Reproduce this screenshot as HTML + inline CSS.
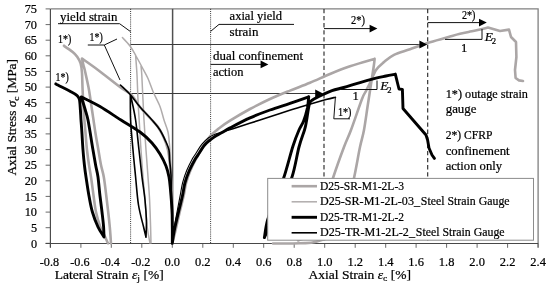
<!DOCTYPE html>
<html><head><meta charset="utf-8"><title>Axial stress versus strain</title>
<style>html,body{margin:0;padding:0;background:#fff}svg{display:block}</style></head>
<body>
<svg width="550" height="286" viewBox="0 0 550 286">
<rect width="550" height="286" fill="#fff"/>
<path d="M50.4,8.9H538.1V247.6" fill="none" stroke="#808080" stroke-width="1.3"/>
<path d="M45.6,243.3H50.4 M45.6,227.7H50.4 M45.6,212.1H50.4 M45.6,196.4H50.4 M45.6,180.8H50.4 M45.6,165.2H50.4 M45.6,149.6H50.4 M45.6,133.9H50.4 M45.6,118.3H50.4 M45.6,102.7H50.4 M45.6,87.1H50.4 M45.6,71.4H50.4 M45.6,55.8H50.4 M45.6,40.2H50.4 M45.6,24.6H50.4 M45.6,8.9H50.4 M50.4,243.3V247.8 M80.9,243.3V247.8 M111.3,243.3V247.8 M141.8,243.3V247.8 M172.3,243.3V247.8 M202.8,243.3V247.8 M233.3,243.3V247.8 M263.7,243.3V247.8 M294.2,243.3V247.8 M324.7,243.3V247.8 M355.2,243.3V247.8 M385.7,243.3V247.8 M416.1,243.3V247.8 M446.6,243.3V247.8 M477.1,243.3V247.8 M507.6,243.3V247.8 M538.1,243.3V247.8" stroke="#6a6a6a" stroke-width="1" fill="none"/>
<path d="M50.4,8.9V247.6 M45.6,243.5H538.1" stroke="#484848" stroke-width="1.15" fill="none"/>
<path d="M172.6,8.9V243.3" stroke="#505050" stroke-width="1.5" fill="none"/>
<path d="M130.6,8.9V243.3 M210.6,8.9V243.3" stroke="#222" stroke-width="0.9" stroke-dasharray="1 1.1" fill="none"/>
<path d="M324,8.9V243.3 M427.7,8.9V243.3" stroke="#222" stroke-width="1.1" stroke-dasharray="4.3 2.8" fill="none"/>
<path d="M130.6,44.5H420 M130.6,93.5H316" stroke="#3a3a3a" stroke-width="1.2" fill="none"/>
<g fill="none" stroke-linejoin="round" stroke-linecap="round">
<path d="M172.3,243.3 C172.3,238.6 172.4,223.9 172.3,215.0 C172.2,206.1 171.9,198.3 171.5,190.0 C171.1,181.7 170.6,171.7 170.0,165.0 C169.4,158.3 169.0,154.5 168.0,150.0 C167.0,145.5 165.7,141.8 164.0,138.0 C162.3,134.2 160.3,130.3 158.0,127.0 C155.7,123.7 153.0,121.3 150.0,118.0 C147.0,114.7 143.2,110.9 140.0,107.0 C136.8,103.1 134.3,97.8 131.0,94.5 C127.7,91.2 125.5,91.1 120.0,87.0 C114.5,82.9 104.3,74.7 98.0,70.0 C91.7,65.3 84.7,60.5 82.0,58.6 M82.0,58.6 C82.2,59.7 82.9,62.8 83.4,65.0 C83.9,67.2 84.3,67.8 85.2,72.0 C86.1,76.2 87.9,83.7 89.0,90.0 C90.1,96.3 91.2,105.0 92.0,110.0 C92.8,115.0 92.9,116.0 93.5,120.0 C94.1,124.0 94.8,129.0 95.6,134.0 C96.4,139.0 97.5,144.8 98.4,150.0 C99.3,155.2 100.1,160.5 101.0,165.0 C101.9,169.5 102.9,171.8 103.8,177.0 C104.7,182.2 105.6,190.2 106.3,196.0 C107.0,201.8 107.6,206.8 108.2,212.0 C108.8,217.2 109.3,221.8 109.8,227.0 C110.3,232.2 110.8,240.6 111.0,243.3 M108.0,243.3 C107.3,241.8 105.3,237.2 104.0,234.5 C102.7,231.8 101.6,230.8 100.3,227.0 C99.0,223.2 97.1,217.2 96.0,212.0 C94.9,206.8 94.4,201.8 93.6,196.0 C92.8,190.2 91.8,182.2 91.0,177.0 C90.2,171.8 89.7,169.5 89.0,165.0 C88.3,160.5 87.6,155.2 87.0,150.0 C86.4,144.8 86.0,139.0 85.6,134.0 C85.2,129.0 84.7,124.0 84.4,120.0 C84.1,116.0 83.9,115.0 83.6,110.0 C83.3,105.0 82.9,96.2 82.6,90.0 C82.3,83.8 82.3,77.4 82.0,73.0 C81.7,68.6 81.4,66.2 80.6,63.5 C79.8,60.8 78.5,58.7 77.2,56.8 C75.9,54.9 74.9,53.8 72.7,52.0 C70.5,50.2 65.5,46.8 64.0,45.8 M64.0,45.8 L64.0,45.8 M172.3,243.3 C172.8,241.2 174.1,236.6 175.4,231.0 C176.7,225.4 178.8,215.8 180.2,210.0 C181.6,204.2 182.6,200.5 183.6,196.0 C184.6,191.5 185.0,187.1 186.1,183.0 C187.2,178.9 188.4,175.3 190.0,171.5 C191.6,167.7 194.0,162.8 195.4,160.0 C196.8,157.2 196.7,157.5 198.2,155.0 C199.7,152.5 202.2,148.0 204.2,144.8 C206.2,141.6 208.2,138.4 210.2,136.0 C212.2,133.6 214.8,131.9 216.3,130.6 C217.8,129.3 217.1,129.7 219.4,128.0 C221.7,126.3 224.9,123.9 230.0,120.7 C235.1,117.5 243.3,112.6 250.0,109.0 C256.7,105.4 263.3,102.1 270.0,99.0 C276.7,95.9 283.3,93.3 290.0,90.6 C296.7,87.9 303.3,85.6 310.0,82.8 C316.7,80.0 323.3,76.8 330.0,74.0 C336.7,71.2 342.6,68.8 350.0,66.3 C357.4,63.8 370.5,60.1 374.6,58.9 M374.6,58.9 C374.5,60.1 374.5,61.1 373.8,66.0 C373.1,70.8 371.4,81.5 370.4,88.0 C369.4,94.5 368.9,98.0 367.8,105.0 C366.7,112.0 365.3,123.0 364.0,130.0 C362.7,137.0 361.7,139.0 360.0,147.0 C358.3,155.0 356.3,167.5 354.0,178.0 C351.7,188.5 348.7,201.0 346.0,210.0 C343.3,219.0 343.0,226.7 338.0,232.0 C333.0,237.3 322.3,239.9 316.0,241.8 C309.7,243.7 307.2,242.9 300.0,243.2 C292.8,243.5 277.5,243.4 273.0,243.5 M298.0,240.5 C300.8,239.1 310.5,237.9 315.0,232.0 C319.5,226.1 322.0,214.0 325.0,205.0 C328.0,196.0 329.8,187.7 333.0,178.0 C336.2,168.3 341.0,155.0 344.0,147.0 C347.0,139.0 348.0,138.0 351.0,130.0 C354.0,122.0 359.5,105.5 362.0,99.0 C364.5,92.5 364.7,93.7 366.0,91.0 C367.3,88.3 368.3,86.5 370.0,83.0 C371.7,79.5 373.7,73.5 376.0,70.0 C378.3,66.5 381.0,64.5 384.0,62.0 C387.0,59.5 389.7,56.9 394.0,54.8 C398.3,52.7 404.0,51.3 410.0,49.2 C416.0,47.1 423.3,44.3 430.0,42.2 C436.7,40.1 445.0,37.9 450.0,36.5 C455.0,35.1 456.7,34.6 460.0,33.8 C463.3,33.0 466.7,32.3 470.0,31.6 C473.3,30.9 477.0,30.3 480.0,29.6 C483.0,28.9 486.7,27.9 488.0,27.6 M488.0,27.6 L500.0,31.0 L509.0,29.6 L511.0,37.0 L516.0,42.0 L516.4,57.0 L515.0,70.0 L515.6,78.0 L519.0,80.4 L523.0,81.0" stroke="#aba6a6" stroke-width="2.6"/>
<path d="M172.3,243.3 C172.2,236.1 172.2,212.2 172.0,200.0 C171.8,187.8 171.4,179.0 171.0,170.0 C170.6,161.0 170.1,152.3 169.6,146.0 C169.1,139.7 168.9,136.3 168.0,132.0 C167.1,127.7 165.3,124.2 164.0,120.0 C162.7,115.8 161.8,111.2 160.0,106.5 C158.2,101.8 155.0,96.2 153.0,91.5 C151.0,86.8 149.8,82.6 148.0,78.5 C146.2,74.4 144.0,70.8 142.0,67.0 C140.0,63.2 138.0,59.5 136.0,56.0 C134.0,52.5 132.3,49.1 130.0,46.0 C127.7,42.9 123.7,39.0 122.4,37.6 M141.0,66.0 C141.1,67.5 141.5,69.3 141.8,75.0 C142.1,80.7 142.6,92.5 143.0,100.0 C143.4,107.5 143.5,111.7 144.0,120.0 C144.5,128.3 145.3,140.5 146.0,150.0 C146.7,159.5 147.4,168.7 148.0,177.0 C148.6,185.3 149.2,191.7 149.6,200.0 C150.0,208.3 150.4,219.8 150.6,227.0 C150.8,234.2 150.9,240.3 151.0,243.0 M150.0,243.0 C149.5,240.3 148.0,234.2 147.2,227.0 C146.4,219.8 145.7,208.3 145.0,200.0 C144.3,191.7 143.7,185.3 143.0,177.0 C142.3,168.7 141.6,158.3 141.0,150.0 C140.4,141.7 140.1,135.3 139.6,127.0 C139.1,118.7 138.4,108.7 138.0,100.0 C137.6,91.3 137.4,82.5 137.0,75.0 C136.6,67.5 135.8,58.3 135.6,55.0" stroke="#b0acac" stroke-width="1.5"/>
<path d="M172.3,243.3 C172.3,240.6 172.4,232.6 172.3,227.0 C172.2,221.4 172.3,216.2 172.0,210.0 C171.7,203.8 171.0,195.5 170.5,190.0 C170.0,184.5 169.8,181.0 169.0,177.0 C168.2,173.0 167.5,169.8 166.0,166.0 C164.5,162.2 162.3,157.8 160.0,154.0 C157.7,150.2 155.3,146.7 152.0,143.0 C148.7,139.3 145.2,135.8 140.0,132.0 C134.8,128.2 127.7,124.2 121.0,120.0 C114.3,115.8 106.6,110.3 100.0,106.5 C93.4,102.7 84.4,98.5 81.3,96.9 M81.3,96.9 C81.6,97.9 82.5,100.8 83.2,103.0 C83.9,105.2 84.5,107.2 85.3,110.0 C86.1,112.8 87.2,116.0 88.0,120.0 C88.8,124.0 89.6,129.0 90.4,134.0 C91.2,139.0 92.1,144.8 93.0,150.0 C93.9,155.2 94.8,160.5 95.6,165.0 C96.4,169.5 97.3,171.8 98.0,177.0 C98.7,182.2 99.3,190.2 100.0,196.0 C100.7,201.8 101.4,206.8 102.0,212.0 C102.6,217.2 103.3,222.8 103.6,227.0 C103.9,231.2 103.9,235.3 104.0,237.0 M104.0,237.0 C103.0,235.3 99.9,231.2 98.0,227.0 C96.1,222.8 93.9,217.2 92.4,212.0 C90.9,206.8 90.1,201.8 89.0,196.0 C87.9,190.2 86.8,182.2 86.0,177.0 C85.2,171.8 84.9,169.5 84.4,165.0 C83.9,160.5 83.4,155.2 83.0,150.0 C82.6,144.8 82.3,139.0 82.0,134.0 C81.7,129.0 81.3,124.0 81.0,120.0 C80.7,116.0 80.7,113.4 80.4,110.0 C80.1,106.6 80.0,101.9 79.4,99.5 C78.8,97.1 78.3,96.7 76.8,95.4 C75.3,94.1 73.9,93.4 70.4,91.5 C66.9,89.6 58.2,85.2 55.8,83.9 M55.8,83.9 L55.8,83.9 M172.3,243.3 C172.6,241.2 173.1,236.6 174.2,231.0 C175.3,225.4 177.6,215.8 179.0,210.0 C180.4,204.2 181.4,200.5 182.4,196.0 C183.4,191.5 183.8,187.1 184.9,183.0 C186.0,178.9 187.3,175.3 188.9,171.5 C190.5,167.7 193.2,162.7 194.7,160.0 C196.2,157.3 196.1,157.8 197.7,155.4 C199.3,153.0 202.1,148.1 204.2,145.5 C206.3,142.9 208.2,141.5 210.3,139.8 C212.4,138.2 214.4,136.9 216.5,135.6 C218.6,134.3 220.3,133.5 222.6,132.2 C224.8,130.9 225.4,130.3 230.0,127.9 C234.6,125.5 243.3,120.9 250.0,117.9 C256.7,114.9 263.3,112.4 270.0,110.0 C276.7,107.6 283.6,105.5 290.0,103.3 C296.4,101.1 305.6,97.9 308.7,96.8 M308.7,96.8 C308.5,98.7 308.2,104.0 307.4,108.0 C306.5,112.0 305.0,117.3 303.6,121.0 C302.2,124.7 300.8,125.8 299.0,130.0 C297.2,134.2 295.5,138.2 293.0,146.0 C290.5,153.8 287.0,168.0 284.0,177.0 C281.0,186.0 277.7,192.8 275.0,200.0 C272.3,207.2 269.4,213.7 267.6,220.0 C265.8,226.3 264.9,234.7 264.4,237.6 M264.4,237.6 C265.3,235.5 267.4,230.4 270.0,225.0 C272.6,219.6 276.3,213.0 280.0,205.0 C283.7,197.0 288.8,186.7 292.0,177.0 C295.2,167.3 296.9,154.8 299.0,147.0 C301.1,139.2 303.2,134.3 304.5,130.0 C305.8,125.7 305.7,125.3 306.5,121.0 C307.3,116.7 308.3,107.6 309.4,104.0 C310.5,100.4 311.6,100.8 313.0,99.6 C314.4,98.4 316.3,97.8 318.0,97.0 C319.7,96.2 320.7,95.5 323.0,94.5 C325.3,93.5 328.6,91.9 332.0,90.7 C335.4,89.5 339.0,88.8 343.7,87.5 C348.4,86.2 354.6,84.1 360.0,82.6 C365.4,81.0 371.7,79.3 376.0,78.2 C380.3,77.1 382.8,76.7 386.0,76.0 C389.2,75.3 393.8,74.6 395.4,74.3 M395.4,74.3 L398.0,85.0 L399.0,89.0 L402.4,89.4 L403.0,108.5 L426.0,135.0 L427.6,140.0 L429.0,148.0 L432.0,155.0 L434.4,158.4" stroke="#000" stroke-width="2.9"/>
<path d="M172.3,243.3 C172.2,240.2 172.1,232.2 172.0,225.0 C171.9,217.8 171.7,208.3 171.5,200.0 C171.3,191.7 171.3,181.7 171.0,175.0 C170.7,168.3 169.9,164.2 169.6,160.0 C169.3,155.8 169.6,153.0 169.0,150.0 C168.4,147.0 167.5,145.3 166.0,142.0 C164.5,138.7 162.3,133.7 160.0,130.0 C157.7,126.3 155.3,123.8 152.0,120.0 C148.7,116.2 143.6,111.2 140.0,107.0 C136.4,102.8 133.9,98.7 130.6,95.0 C127.3,91.3 122.1,86.7 120.4,85.0 M131.0,97.0 C131.8,100.8 134.3,111.2 135.6,120.0 C136.9,128.8 137.9,140.5 139.0,150.0 C140.1,159.5 141.0,168.7 142.0,177.0 C143.0,185.3 144.3,192.8 145.0,200.0 C145.7,207.2 146.2,213.8 146.4,220.0 C146.6,226.2 146.1,234.3 146.0,237.2 M146.0,237.2 C145.6,235.5 144.8,232.4 143.6,227.0 C142.3,221.6 139.8,213.3 138.5,205.0 C137.2,196.7 136.5,186.2 135.6,177.0 C134.7,167.8 133.8,159.5 133.0,150.0 C132.2,140.5 131.0,129.2 130.6,120.0 C130.2,110.8 130.4,99.2 130.3,95.0 M225.0,131.2 C226.8,130.6 230.2,129.7 236.0,127.8 C241.8,125.9 252.7,122.4 260.0,120.0 C267.3,117.6 273.3,115.8 280.0,113.6 C286.7,111.4 292.7,109.3 300.4,107.0 C308.1,104.7 320.2,101.2 326.0,99.6 C331.8,98.0 333.8,97.7 335.4,97.3" stroke="#000" stroke-width="1.6"/>
<path d="M172.3,243.3 C172.5,241.2 172.8,236.6 173.6,231.0 C174.4,225.4 176.3,215.9 177.4,210.0 C178.5,204.1 179.3,200.0 180.2,195.4 C181.1,190.8 181.6,186.5 182.7,182.3 C183.8,178.2 185.1,174.4 186.7,170.5 C188.3,166.6 190.9,161.6 192.4,158.8 C193.9,156.1 193.9,156.5 195.5,154.0 C197.1,151.5 200.0,146.6 202.2,143.9 C204.4,141.2 206.5,139.4 208.6,137.8 C210.7,136.2 212.3,135.3 215.0,134.2 C217.7,133.1 223.3,131.7 225.0,131.2" stroke="#000" stroke-width="1.1"/>
</g>
<path d="M58,23.7H119.6L130.5,31.6 M87.8,45H104.3L117,39 M104.3,45L120,80 M294,24.4H219L210.6,31.4 M210.6,64.4H261 M324,28.6H370 M427.7,22.6H480 M341,89.5H377V80.5 M445,39.4H482V29 M335.4,97.3L333.8,118.8H350 " stroke="#111" stroke-width="1" fill="none"/>
<path d="M427.2,44.5L419.4,40.6V48.4ZM323.0,93.5L315.2,89.6V97.4ZM268.4,64.4L260.6,60.5V68.3ZM377.4,28.6L369.6,24.7V32.5ZM486.8,22.6L479.0,18.7V26.5Z" fill="#000"/>
<rect x="267.7" y="178.4" width="265.8" height="61.8" fill="#fff" stroke="#8c8c8c" stroke-width="1"/>
<path d="M291.6,186.2H317" stroke="#aba6a6" stroke-width="2.6" fill="none"/>
<path d="M291.6,201.8H317" stroke="#b0acac" stroke-width="1.5" fill="none"/>
<path d="M291.6,217.3H317" stroke="#000" stroke-width="2.9" fill="none"/>
<path d="M291.6,232.8H317" stroke="#000" stroke-width="1.6" fill="none"/>
<g font-family="'Liberation Serif', 'DejaVu Serif', serif" font-size="12.6" fill="#000" stroke="#000" stroke-width="0.22">
<text x="320" y="189.8" textLength="84" lengthAdjust="spacingAndGlyphs">D25-SR-M1-2L-3</text>
<text y="205.3"><tspan x="320" textLength="100.0" lengthAdjust="spacingAndGlyphs">D25-SR-M1-2L-03_</tspan><tspan x="420.8" textLength="88.8" lengthAdjust="spacingAndGlyphs">Steel Strain Gauge</tspan></text>
<text x="320" y="220.8" textLength="84" lengthAdjust="spacingAndGlyphs">D25-TR-M1-2L-2</text>
<text y="236.3"><tspan x="320" textLength="95.0" lengthAdjust="spacingAndGlyphs">D25-TR-M1-2L-2_</tspan><tspan x="415.8" textLength="88.8" lengthAdjust="spacingAndGlyphs">Steel Strain Gauge</tspan></text>
<text x="37.0" y="247.5" textLength="6.1" lengthAdjust="spacingAndGlyphs" text-anchor="end">0</text>
<text x="37.0" y="231.9" textLength="6.1" lengthAdjust="spacingAndGlyphs" text-anchor="end">5</text>
<text x="37.0" y="216.2" textLength="12.3" lengthAdjust="spacingAndGlyphs" text-anchor="end">10</text>
<text x="37.0" y="200.6" textLength="12.3" lengthAdjust="spacingAndGlyphs" text-anchor="end">15</text>
<text x="37.0" y="185.0" textLength="12.3" lengthAdjust="spacingAndGlyphs" text-anchor="end">20</text>
<text x="37.0" y="169.4" textLength="12.3" lengthAdjust="spacingAndGlyphs" text-anchor="end">25</text>
<text x="37.0" y="153.8" textLength="12.3" lengthAdjust="spacingAndGlyphs" text-anchor="end">30</text>
<text x="37.0" y="138.1" textLength="12.3" lengthAdjust="spacingAndGlyphs" text-anchor="end">35</text>
<text x="37.0" y="122.5" textLength="12.3" lengthAdjust="spacingAndGlyphs" text-anchor="end">40</text>
<text x="37.0" y="106.9" textLength="12.3" lengthAdjust="spacingAndGlyphs" text-anchor="end">45</text>
<text x="37.0" y="91.3" textLength="12.3" lengthAdjust="spacingAndGlyphs" text-anchor="end">50</text>
<text x="37.0" y="75.6" textLength="12.3" lengthAdjust="spacingAndGlyphs" text-anchor="end">55</text>
<text x="37.0" y="60.0" textLength="12.3" lengthAdjust="spacingAndGlyphs" text-anchor="end">60</text>
<text x="37.0" y="44.4" textLength="12.3" lengthAdjust="spacingAndGlyphs" text-anchor="end">65</text>
<text x="37.0" y="28.8" textLength="12.3" lengthAdjust="spacingAndGlyphs" text-anchor="end">70</text>
<text x="37.0" y="13.1" textLength="12.3" lengthAdjust="spacingAndGlyphs" text-anchor="end">75</text>
<text x="49.4" y="266.2" textLength="19.3" lengthAdjust="spacingAndGlyphs" text-anchor="middle">-0.8</text>
<text x="79.9" y="266.2" textLength="19.3" lengthAdjust="spacingAndGlyphs" text-anchor="middle">-0.6</text>
<text x="110.3" y="266.2" textLength="19.3" lengthAdjust="spacingAndGlyphs" text-anchor="middle">-0.4</text>
<text x="140.8" y="266.2" textLength="19.3" lengthAdjust="spacingAndGlyphs" text-anchor="middle">-0.2</text>
<text x="172.3" y="266.2" textLength="15.6" lengthAdjust="spacingAndGlyphs" text-anchor="middle">0.0</text>
<text x="202.8" y="266.2" textLength="15.6" lengthAdjust="spacingAndGlyphs" text-anchor="middle">0.2</text>
<text x="233.3" y="266.2" textLength="15.6" lengthAdjust="spacingAndGlyphs" text-anchor="middle">0.4</text>
<text x="263.7" y="266.2" textLength="15.6" lengthAdjust="spacingAndGlyphs" text-anchor="middle">0.6</text>
<text x="294.2" y="266.2" textLength="15.6" lengthAdjust="spacingAndGlyphs" text-anchor="middle">0.8</text>
<text x="324.7" y="266.2" textLength="15.6" lengthAdjust="spacingAndGlyphs" text-anchor="middle">1.0</text>
<text x="355.2" y="266.2" textLength="15.6" lengthAdjust="spacingAndGlyphs" text-anchor="middle">1.2</text>
<text x="385.7" y="266.2" textLength="15.6" lengthAdjust="spacingAndGlyphs" text-anchor="middle">1.4</text>
<text x="416.1" y="266.2" textLength="15.6" lengthAdjust="spacingAndGlyphs" text-anchor="middle">1.6</text>
<text x="446.6" y="266.2" textLength="15.6" lengthAdjust="spacingAndGlyphs" text-anchor="middle">1.8</text>
<text x="477.1" y="266.2" textLength="15.6" lengthAdjust="spacingAndGlyphs" text-anchor="middle">2.0</text>
<text x="507.6" y="266.2" textLength="15.6" lengthAdjust="spacingAndGlyphs" text-anchor="middle">2.2</text>
<text x="538.1" y="266.2" textLength="15.6" lengthAdjust="spacingAndGlyphs" text-anchor="middle">2.4</text>
<text x="54.7" y="278.7" textLength="109" lengthAdjust="spacingAndGlyphs">Lateral Strain <tspan font-style="italic">ε</tspan><tspan font-size="9" dy="2.5">j</tspan><tspan dy="-2.5"> [%]</tspan></text>
<text x="308.5" y="278.7" textLength="102.5" lengthAdjust="spacingAndGlyphs">Axial Strain <tspan font-style="italic">ε</tspan><tspan font-size="9" dy="2.5">c</tspan><tspan dy="-2.5"> [%]</tspan></text>
<text transform="translate(16.1,175.6) rotate(-90)" textLength="116.6" lengthAdjust="spacingAndGlyphs">Axial Stress <tspan font-style="italic">σ</tspan><tspan font-size="9" dy="2.5">c</tspan><tspan dy="-2.5"> [MPa]</tspan></text>
<text x="60" y="20.8" textLength="57.4" lengthAdjust="spacingAndGlyphs">yield strain</text>
<text x="58" y="42.8" textLength="13.2" lengthAdjust="spacingAndGlyphs">1*)</text>
<text x="89.6" y="40.7" textLength="13.2" lengthAdjust="spacingAndGlyphs">1*)</text>
<text x="55.5" y="80.8" textLength="13.2" lengthAdjust="spacingAndGlyphs">1*)</text>
<text x="229.6" y="20" textLength="52.4" lengthAdjust="spacingAndGlyphs">axial yield</text>
<text x="229.6" y="35.6" textLength="28.8" lengthAdjust="spacingAndGlyphs">strain</text>
<text x="213" y="60" textLength="90" lengthAdjust="spacingAndGlyphs">dual confinement</text>
<text x="213" y="75.6" textLength="30.4" lengthAdjust="spacingAndGlyphs">action</text>
<text x="351" y="24.4" textLength="14" lengthAdjust="spacingAndGlyphs">2*)</text>
<text x="462" y="19" textLength="13.5" lengthAdjust="spacingAndGlyphs">2*)</text>
<text x="338" y="115.8" textLength="13.5" lengthAdjust="spacingAndGlyphs">1*)</text>
<text x="352.5" y="99.6">1</text>
<text x="461" y="51.6">1</text>
<text x="380.2" y="90.4"><tspan font-style="italic" font-size="13.4">E</tspan><tspan font-size="8.6" dy="2.6" dx="-1.2">2</tspan></text>
<text x="484.8" y="41"><tspan font-style="italic" font-size="13.4">E</tspan><tspan font-size="8.6" dy="2.6" dx="-1.2">2</tspan></text>
<text x="445.7" y="97.8" textLength="82.3" lengthAdjust="spacingAndGlyphs">1*) outage strain</text>
<text x="445.7" y="112.5" textLength="30.8" lengthAdjust="spacingAndGlyphs">gauge</text>
<text x="445.7" y="139" textLength="46.7" lengthAdjust="spacingAndGlyphs">2*) CFRP</text>
<text x="445.7" y="154.6" textLength="64" lengthAdjust="spacingAndGlyphs">confinement</text>
<text x="445.7" y="170" textLength="56.3" lengthAdjust="spacingAndGlyphs">action only</text>
</g>
</svg>
</body></html>
